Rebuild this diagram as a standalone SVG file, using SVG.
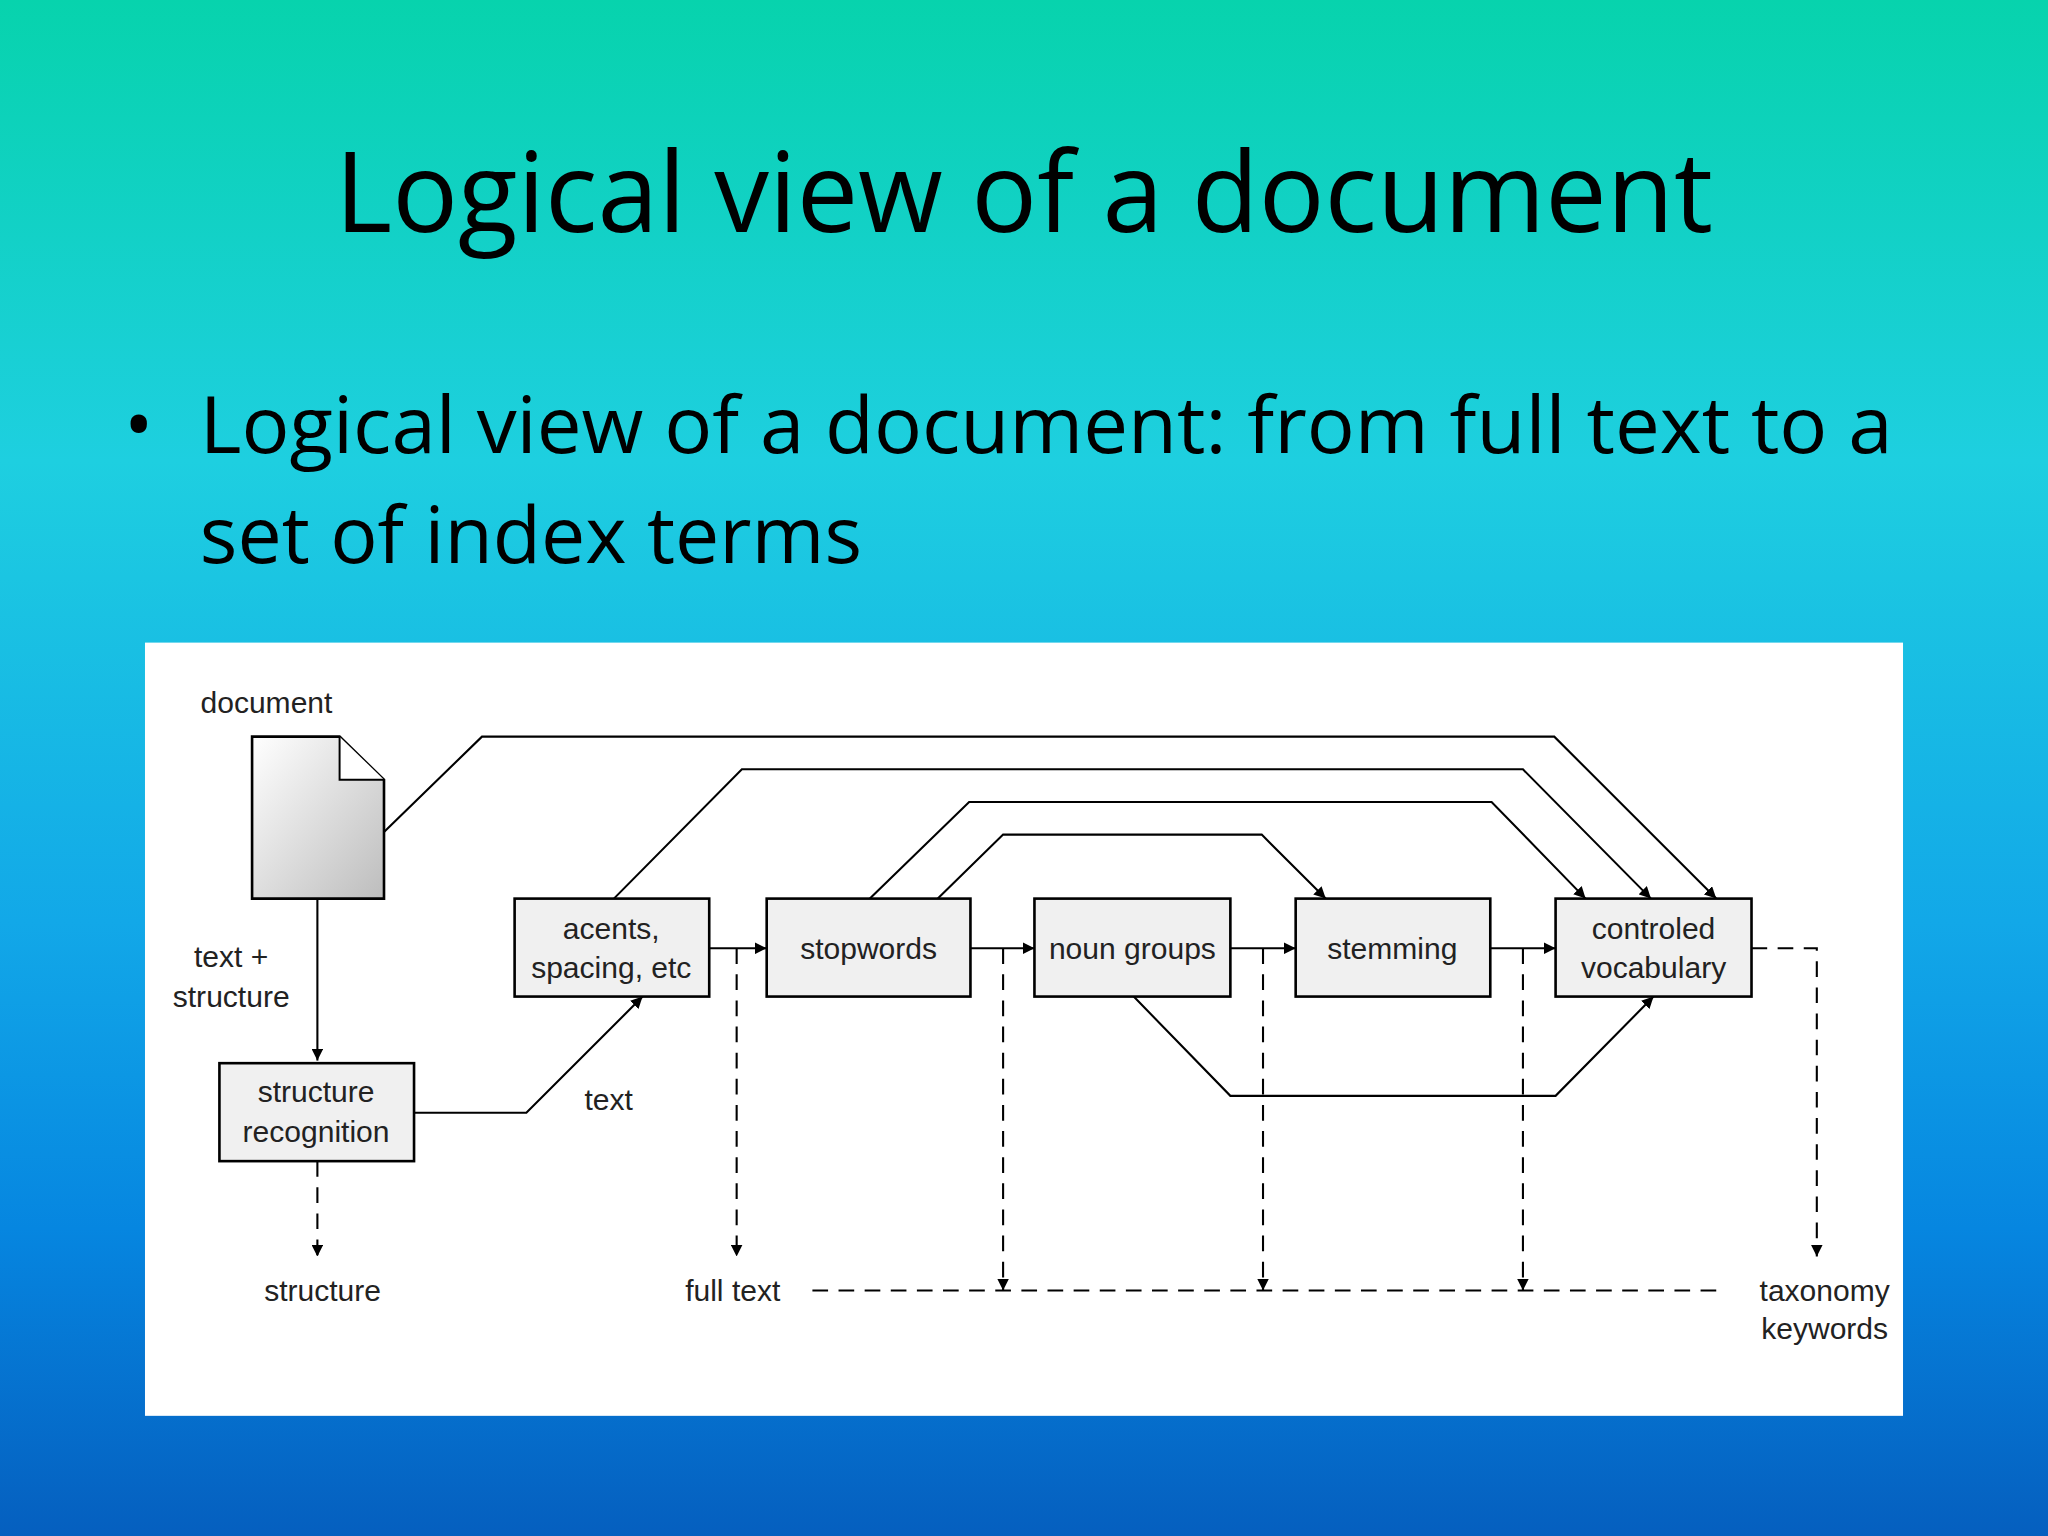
<svg xmlns="http://www.w3.org/2000/svg" width="2048" height="1536" viewBox="0 0 2048 1536">
<defs>
<linearGradient id="bg" x1="0" y1="0" x2="0" y2="1">
<stop offset="0" stop-color="#07d3ad"/><stop offset="0.3" stop-color="#1ecfe0"/><stop offset="0.6" stop-color="#12a8e8"/><stop offset="0.8" stop-color="#0686e0"/><stop offset="1" stop-color="#055fbf"/></linearGradient>
<linearGradient id="doc" x1="0" y1="0" x2="1" y2="1"><stop offset="0" stop-color="#ffffff"/><stop offset="1" stop-color="#bdbdbd"/></linearGradient>
<marker id="ah" viewBox="0 0 10 10" refX="10" refY="5" markerWidth="9" markerHeight="9" markerUnits="userSpaceOnUse" orient="auto"><path d="M0,0 L10,5 L0,10 z" fill="#000"/></marker>
<style>
.box{fill:#f0f0f0;stroke:#000;stroke-width:2}
.t{font-family:"Liberation Sans",Arial,sans-serif;font-size:23px;fill:#222;text-anchor:middle}
.c{fill:none;stroke:#000;stroke-width:1.6;marker-end:url(#ah)}
.d{fill:none;stroke:#000;stroke-width:1.6;stroke-dasharray:12,8}
.da{fill:none;stroke:#000;stroke-width:1.6;stroke-dasharray:12,8;marker-end:url(#ah)}
</style>
</defs>
<rect width="2048" height="1536" fill="url(#bg)"/>
<g transform="scale(1.30612)">
<text x="784" y="178" font-family="'Open Sans',sans-serif" font-size="86" text-anchor="middle" textLength="1055" lengthAdjust="spacingAndGlyphs" fill="#000">Logical view of a document</text>
<text x="95" y="347" font-family="'Open Sans',sans-serif" font-size="60" fill="#000">•</text>
<text x="153" y="347" font-family="'Open Sans',sans-serif" font-size="60" textLength="1296" lengthAdjust="spacingAndGlyphs" fill="#000">Logical view of a document: from full text to a</text>
<text x="153" y="431" font-family="'Open Sans',sans-serif" font-size="60" textLength="507" lengthAdjust="spacingAndGlyphs" fill="#000">set of index terms</text>
<rect x="111" y="492" width="1346" height="592" fill="#fff"/>
<g id="connectors">
<path class="c" d="M243,688 V812"/>
<path class="c" d="M294,637 L369,564 H1190 L1314,688"/>
<path class="c" d="M470,688 L568,589 H1166 L1264,688"/>
<path class="c" d="M666,688 L742,614 H1142 L1214,688"/>
<path class="c" d="M718,688 L768,639 H966 L1015,688"/>
<path class="c" d="M868,763 L942,839 H1191 L1266,763"/>
<path class="c" d="M317,852 H403 L492,763"/>
<path class="c" d="M543,726 H587"/>
<path class="c" d="M743,726 H792"/>
<path class="c" d="M942,726 H992"/>
<path class="c" d="M1141,726 H1191"/>
<path class="da" d="M564,726 V962"/>
<path class="da" d="M768,726 V988"/>
<path class="da" d="M967,726 V988"/>
<path class="da" d="M1166,726 V988"/>
<path class="da" d="M1341,726 H1391 V962"/>
<path class="da" d="M243,889 V962"/>
<path class="d" d="M622,988 H1320"/>
</g>
<g id="document">
<path d="M193,564 H260 L294,597 V688 H193 Z" fill="url(#doc)" stroke="#000" stroke-width="2"/>
<path d="M260,564 V597 H294" fill="#fff" stroke="#000" stroke-width="1.5"/>
<text class="t" x="204" y="546">document</text>
</g>
<g id="acents"><rect class="box" x="394" y="688" width="149" height="75"/><text class="t" x="468" y="719">acents,</text><text class="t" x="468" y="749">spacing, etc</text></g>
<g id="stopwords"><rect class="box" x="587" y="688" width="156" height="75"/><text class="t" x="665" y="734">stopwords</text></g>
<g id="noungroups"><rect class="box" x="792" y="688" width="150" height="75"/><text class="t" x="867" y="734">noun groups</text></g>
<g id="stemming"><rect class="box" x="992" y="688" width="149" height="75"/><text class="t" x="1066" y="734">stemming</text></g>
<g id="controled"><rect class="box" x="1191" y="688" width="150" height="75"/><text class="t" x="1266" y="719">controled</text><text class="t" x="1266" y="749">vocabulary</text></g>
<g id="structrec"><rect class="box" x="168" y="814" width="149" height="75"/><text class="t" x="242" y="844">structure</text><text class="t" x="242" y="874">recognition</text></g>
<g id="labels">
<text class="t" x="177" y="740">text +</text><text class="t" x="177" y="771">structure</text>
<text class="t" x="466" y="850">text</text>
<text class="t" x="247" y="996">structure</text>
<text class="t" x="561" y="996">full text</text>
<text class="t" x="1397" y="996">taxonomy</text><text class="t" x="1397" y="1025">keywords</text>
</g>
</g>
</svg>
